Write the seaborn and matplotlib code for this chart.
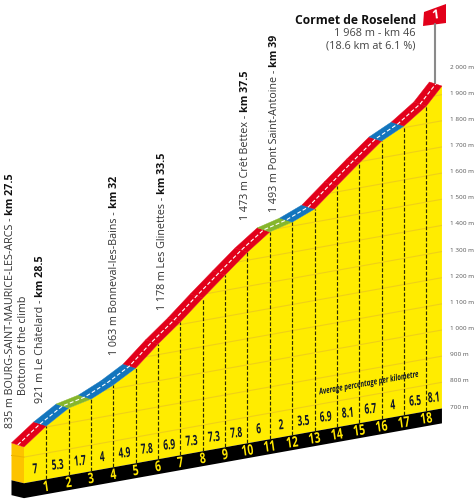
import matplotlib
matplotlib.use("Agg")
import matplotlib.pyplot as plt
import seaborn as sns
import numpy as np
from matplotlib.transforms import Affine2D
from matplotlib.patches import Polygon
from matplotlib.patheffects import AbstractPathEffect

# ---- data -------------------------------------------------------------
km_marks = [0, 1, 2, 3, 4, 5, 6, 7, 8, 9, 10, 11, 12, 13, 14, 15, 16, 17, 18, 18.7]
altitude = [839, 904, 957, 976, 1015, 1064, 1141, 1210, 1286, 1359, 1431, 1493,
            1515, 1550, 1623, 1695, 1764, 1806, 1867, 1933]
gradient = [7, 5.3, 1.7, 4, 4.9, 7.8, 6.9, 7.3, 7.3, 7.8, 6, 2, 3.5, 6.9, 8.1, 6.7, 4, 6.5, 8.1]
gradient_text = ["7", "5.3", "1.7", "4", "4.9", "7.8", "6.9", "7.3", "7.3", "7.8", "6", "2",
                 "3.5", "6.9", "8.1", "6.7", "4", "6.5", "8.1"]
km_labels = [str(i) for i in range(1, 19)]
alt_ticks = list(range(700, 2001, 100))
alt_tick_labels = [f"{a:,}".replace(",", " ") + " m" if a >= 1000 else f"{a} m" for a in alt_ticks]
climb_name = "Cormet de Roselend"
climb_info = ["1 968 m - km 46", "(18.6 km at 6.1 %)"]
avg_note = "Average percentage per kilometre"
# regular part, bold part, x px, bottom px
waypoints = [
    ("835 m BOURG-SAINT-MAURICE-LES-ARCS - ", "km 27.5", 11, 428),
    ("Bottom of the climb", "", 24, 395),
    ("921 m Le Châtelard - ", "km 28.5", 41, 403),
    ("1 063 m Bonneval-les-Bains - ", "km 32", 115, 355),
    ("1 178 m Les Glinettes - ", "km 33.5", 163, 310),
    ("1 473 m Crêt Bettex - ", "km 37.5", 246, 220),
    ("1 493 m Pont Saint-Antoine - ", "km 39", 275, 212),
]

RED, BLUE, GREEN = "#e2001a", "#1375bd", "#86b62c"
YELLOW, ORANGE, GOLD = "#ffec00", "#fdc300", "#ffe600"
NAVY = "#10182a"
BASE = 700
BLACK_BOTTOM = 643
DEPTH_KM, DEPTH_ALT = -0.56, 24
DEPTH_BOTTOM = 20


class Squeeze(AbstractPathEffect):
    """Condense a text's glyphs along its baseline, keeping it real text."""
    def __init__(self, sx):
        super().__init__()
        self.sx = sx

    def draw_path(self, renderer, gc, tpath, affine, rgbFace=None):
        cx = tpath.get_extents().x0 + tpath.get_extents().width / 2
        squeeze = Affine2D().translate(-cx, 0).scale(self.sx, 1).translate(cx, 0)
        renderer.draw_path(gc, tpath, squeeze + affine, rgbFace)


def grade_colour(g):
    return RED if g >= 6 else (BLUE if g >= 3 else GREEN)


sns.set_theme(style="white")
plt.rcParams["font.family"] = ["Open Sans", "DejaVu Sans"]

fig = plt.figure(figsize=(4.74, 5.04), dpi=100, facecolor="white")
ax = fig.add_axes([0, 0, 1, 1])

# km / altitude -> sheared picture plane
shear = Affine2D.from_values(22.35, -4.0, 0, -0.2615, 24, 666.3)
tr = shear + ax.transData

km = np.array(km_marks, float)
alt = np.array(altitude, float)

# front (left) faces
ax.add_patch(Polygon([(0, alt[0]), (DEPTH_KM, alt[0] + DEPTH_ALT), (DEPTH_KM, BASE + DEPTH_BOTTOM), (0, BASE)],
                     closed=True, fc=ORANGE, ec="none", transform=tr))
ax.add_patch(Polygon([(0, BASE), (DEPTH_KM, BASE + DEPTH_BOTTOM), (DEPTH_KM, BLACK_BOTTOM + DEPTH_BOTTOM),
                      (0, BLACK_BOTTOM)],
                     closed=True, fc="black", ec="none", transform=tr))

# yellow face
face = Polygon(list(zip(km, alt)) + [(km[-1], BASE), (0, BASE)], closed=True, fc=YELLOW, ec="none", transform=tr, zorder=1)
ax.add_patch(face)
# black kilometre strip
ax.add_patch(Polygon([(0, BASE), (km[-1], BASE), (km[-1], BLACK_BOTTOM), (0, BLACK_BOTTOM)],
                     closed=True, fc="black", ec="none", transform=tr, zorder=2))

# altitude grid
for a in alt_ticks[1:]:
    ln, = ax.plot([0, km[-1]], [a, a], color="#efd018", lw=0.8, transform=tr, zorder=1.5)
    ln.set_clip_path(face)
ax.plot([DEPTH_KM, 0], [815, 800], color="#eeb400", lw=0.8, transform=tr, zorder=1.5)

# kilometre dashes
for k, a in zip(km[1:-1], alt[1:-1]):
    ax.plot([k, k], [BASE, a], color="#2a2a00", lw=0.85, ls=(0, (3.2, 1.6)), transform=tr, zorder=3)

# road
for i, g in enumerate(gradient):
    pts = [(km[i], alt[i]), (km[i + 1], alt[i + 1]),
           (km[i + 1] + DEPTH_KM, alt[i + 1] + DEPTH_ALT), (km[i] + DEPTH_KM, alt[i] + DEPTH_ALT)]
    ax.add_patch(Polygon(pts, closed=True, fc=grade_colour(g), ec=grade_colour(g), lw=0.3, transform=tr, zorder=4))

# centre line
sns.lineplot(x=km + DEPTH_KM / 2, y=alt + DEPTH_ALT / 2, color="white", lw=0.8, linestyle=(0, (3.5, 2)),
             estimator=None, sort=False, ax=ax, transform=tr, zorder=5, legend=False)

# percentages
for i, t in enumerate(gradient_text):
    mid = (km[i] + km[i + 1]) / 2
    ax.text(mid, BASE + 46, t, transform=tr, ha="center", va="center", fontsize=10, fontweight="bold",
            color=NAVY, rotation=5, zorder=6, path_effects=[Squeeze(0.6)])
# km numbers
for k, t in zip(km[1:-1], km_labels):
    ax.text(k, 670, t, transform=tr, ha="center", va="center", fontsize=10.5, fontweight="bold",
            color=GOLD, rotation=8, zorder=6, path_effects=[Squeeze(0.72)])

# altitude labels
for a, t in zip(alt_ticks, alt_tick_labels):
    ax.text(19.06, a, t, transform=tr, ha="left", va="center", fontsize=4.6, color="#555555")

ax.text(369, 383, avg_note, ha="center", va="center", rotation=10.2, fontsize=6.3, fontweight="bold",
        style="italic", color=NAVY, zorder=6, path_effects=[Squeeze(0.72)])

# flag
ax.plot([435, 435], [24, 84], color="#8a8a8a", lw=1.5, zorder=3.5)
ax.add_patch(Polygon([(424, 12), (446, 4), (446, 23), (423, 26)], closed=True, fc="#e2001a", ec="none"))
ax.text(435, 15, "1", color="white", fontsize=9, fontweight="bold", ha="center", va="center", rotation=8)

# title block
ax.text(416, 20, climb_name, ha="right", va="center", fontsize=8.7, fontweight="bold", color="#111111")
ax.text(416, 33.5, climb_info[0], ha="right", va="center", fontsize=7.8, color="#444444")
ax.text(416, 46, climb_info[1], ha="right", va="center", fontsize=7.8, color="#444444")

ax.set_xlim(0, 474)
ax.set_ylim(504, 0)
ax.axis("off")

# rotated waypoint labels: regular part then bold part
fig.canvas.draw()
rend = fig.canvas.get_renderer()
for reg, bold, x, bottom in waypoints:
    t = ax.text(x, bottom, reg, rotation=90, ha="center", va="bottom", fontsize=7.75, color="#333333")
    if bold:
        ext = t.get_window_extent(rend)
        ax.text(x, bottom - ext.height, bold, rotation=90, ha="center", va="bottom", fontsize=7.75,
                fontweight="bold", color="#111111")

fig.savefig("out.png", dpi=100)
